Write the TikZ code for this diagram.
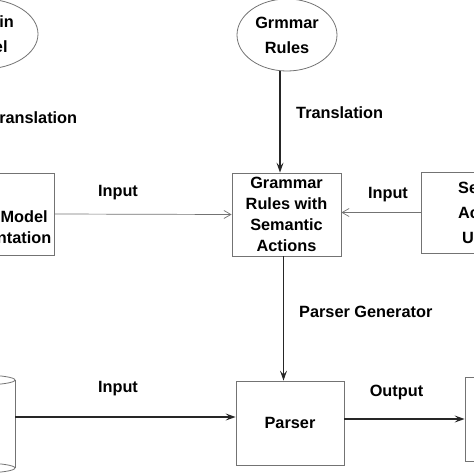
\documentclass[tikz,border=0pt]{standalone}
\usepackage{fontspec}
\setmainfont{Liberation Sans}
\usetikzlibrary{shapes.geometric,arrows.meta}
\tikzset{
  lbl/.style={font=\fontsize{16.3}{21}\selectfont\bfseries, inner sep=0pt},
  oval/.style={ellipse, draw=black!55, line width=0.8pt, inner sep=0pt, align=center,
               font=\fontsize{16.3}{25}\selectfont\bfseries},
  boxn/.style={rectangle, draw=black!55, line width=0.8pt, inner sep=0pt, align=center,
               font=\fontsize{16.3}{21}\selectfont\bfseries},
  thinarrow/.style={draw=black!55, line width=0.7pt, -{Straight Barb[length=7pt,width=8pt]}},
  darkarrow/.style={draw=black!85, line width=1.2pt, -{Stealth[length=10pt,width=7pt,inset=4pt]}},
}
\begin{document}
\begin{tikzpicture}[x=1pt,y=-1pt]
\useasboundingbox (0,0) rectangle (474,474);
\clip (0,0) rectangle (474,474);
% ellipses
\node[oval, minimum width=108pt, minimum height=70pt] (dm) at (-16,34) {Domain\\Model};
\node[oval, minimum width=100pt, minimum height=72pt] (gr) at (287,35) {Grmmar\\Rules};
% boxes
\node[boxn, minimum width=124pt, minimum height=82pt] (dmr) at (-8,214) {};
\node[lbl, align=center] (dmrt) at (-8,229) {Domain Model\\Representation};
\node[boxn, minimum width=109pt, minimum height=83pt] (gra) at (286.5,214.5) {Grammar\\Rules with\\Semantic\\Actions};
\node[boxn, minimum width=109pt, minimum height=81pt] (sau) at (475.5,212.5) {};
\node[lbl, align=left, anchor=west, font=\fontsize{16.3}{25}\selectfont\bfseries] (saut) at (458,213) {Semantic\\Actions\\\hspace*{4pt}Units};
\node[boxn, minimum width=108pt, minimum height=84pt] (parser) at (290,423) {Parser};
\node[boxn, minimum width=108pt, minimum height=84pt] (out) at (519,419) {};
% cylinder (data store)
\draw[black!55, line width=0.8pt] (-20,380) ellipse [x radius=35, y radius=5];
\draw[black!55, line width=0.8pt] (-20,468) ellipse [x radius=35, y radius=5];
\draw[black!55, line width=0.8pt] (15,380) -- (15,468);
\coordinate (dbr) at (15,417);
% connectors
\draw[darkarrow] ([xshift=-16pt]dm.south) -- ([xshift=-16pt]dm.south |- dmr.north);
\draw[darkarrow] ([xshift=-7pt]gr.south) -- ([xshift=-7pt]gr.south |- gra.north);
\draw[thinarrow] (dmr.east) -- (gra.west);
\draw[thinarrow] (sau.west) -- (gra.east |- sau.west);
\draw[darkarrow] ([xshift=-3pt]gra.south) -- ([xshift=-3pt]gra.south |- parser.north);
\draw[darkarrow] (dbr) -- (dbr -| parser.west);
\draw[darkarrow] ([yshift=4pt]parser.east) -- ([yshift=4pt]parser.east -| out.west);
% labels
\node[lbl, anchor=west] (tl) at (-10,118) {Translation};
\node[lbl, anchor=west] (tr) at (296,113) {Translation};
\node[lbl] (in1) at (118,193) {Input};
\node[lbl] (in2) at (388,195) {Input};
\node[lbl, anchor=west] (pg) at (299,312) {Parser Generator};
\node[lbl] (in3) at (118,389) {Input};
\node[lbl] (outl) at (396.5,392) {Output};
\end{tikzpicture}
\end{document}
